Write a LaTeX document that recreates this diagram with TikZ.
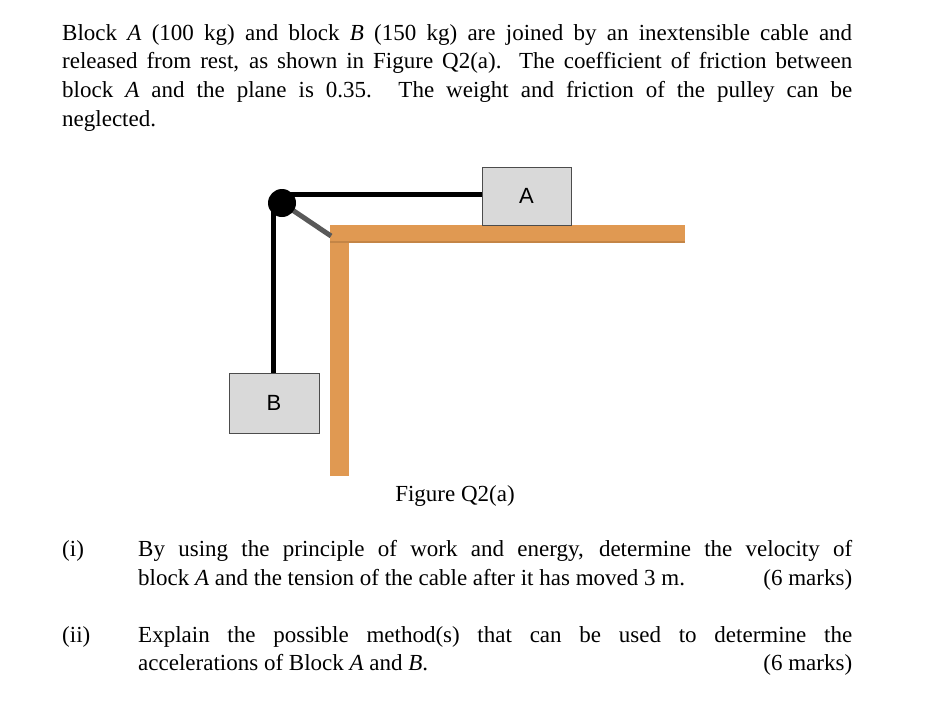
\documentclass[tikz,border=0pt]{standalone}
\usepackage{fontspec}
\setmainfont{Liberation Serif}
\newfontfamily\blk{Liberation Sans}
\begin{document}
\begin{tikzpicture}[x=1pt,y=-1pt,
  para/.style={anchor=north west,inner sep=0pt,align=justify,font=\fontsize{23}{28.8}\selectfont},
  blockbox/.style={draw=black!70,fill=black!15,line width=0.8pt,font=\blk\fontsize{22}{26}\selectfont},
  wood/.style={fill=brown!60!orange!80,draw=none},
  cable/.style={line width=5pt}]
\useasboundingbox (0,0) rectangle (925,704);
\node[para,text width=790pt] (intro) at (62,24) {Block \textit{A} (100 kg) and block \textit{B} (150 kg) are joined by an inextensible cable and\linebreak released from rest, as shown in Figure Q2(a). The coefficient of friction between\linebreak block \textit{A} and the plane is 0.35. The weight and friction of the pulley can be\linebreak neglected.};
% table
\fill[wood] (330,225) rectangle (685,243);
\fill[wood] (330,243) rectangle (349,476);
\fill[brown!70!black,opacity=0.3] (330,241) rectangle (685,243);
\node[blockbox,minimum width=89pt,minimum height=58pt] (A) at (526.5,196) {A};
\node[blockbox,minimum width=90pt,minimum height=60pt] (B) at (274,403) {B};
\coordinate (P) at (282,203);
\coordinate (strutend) at (331,236);
\draw[line width=5pt,black!65] (P) -- (strutend);
\draw[cable] (A.west |- 0,194) -- (282,194);
\draw[cable] (273,203) -- (B.north -| 273,0);
\fill (P) circle (14);
\node[font=\fontsize{23}{28}\selectfont] (cap) at (455,496) {Figure Q2(a)};
\node[anchor=north west,inner sep=0pt,font=\fontsize{23}{28}\selectfont] (i) at (62,540) {(i)};
\node[para,text width=714pt] (ti) at (138,540) {By using the principle of work and energy, determine the velocity of\linebreak block \textit{A} and the tension of the cable after it has moved 3 m.\hfill(6 marks)};
\node[anchor=north west,inner sep=0pt,font=\fontsize{23}{28}\selectfont] (ii) at (62,626) {(ii)};
\node[para,text width=714pt] (tii) at (138,626) {Explain the possible method(s) that can be used to determine the\linebreak accelerations of Block \textit{A} and \textit{B}.\hfill(6 marks)};
\end{tikzpicture}
\end{document}
